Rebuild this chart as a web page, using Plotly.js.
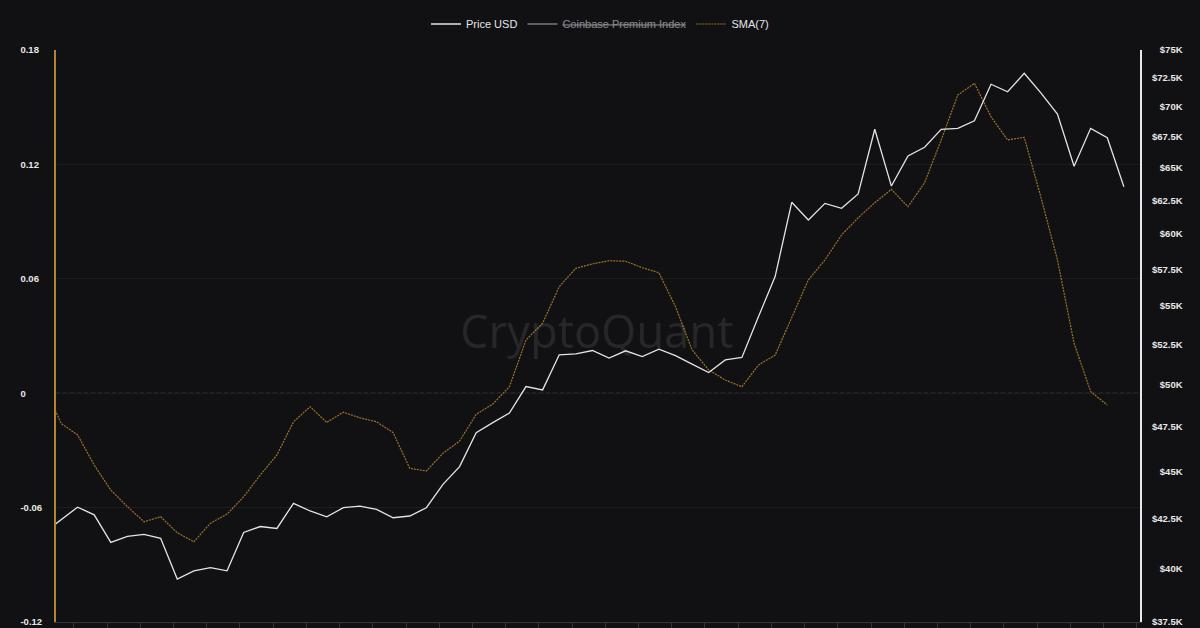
<!DOCTYPE html>
<html>
<head>
<meta charset="utf-8">
<script src="https://cdn.plot.ly/plotly-3.0.1.min.js"></script>
<style>
  html, body { margin: 0; padding: 0; background: #111114; }
  #chart { width: 1200px; height: 628px; }
</style>
</head>
<body>
<div id="chart"></div>
<script>
// ---- Data (daily, 2024-01-14 .. 2024-03-19) ----
const START_DATE = '2024-01-14';
const N_DAYS = 66;

const priceUSD = [
  41800, 42450, 43100, 42700, 41300, 41600, 41700, 41500, 39500, 39900,
  40050, 39900, 41800, 42100, 42000, 43300, 42900, 42600, 43070, 43150,
  42980, 42550, 42640, 43070, 44310, 45270, 47170, 47750, 48300, 49880,
  49680, 51840, 51900, 52110, 51630, 52090, 51730, 52190, 51790, 51260,
  50740, 51520, 51670, 54300, 56990, 62360, 61040, 62280, 61910, 62990,
  68130, 63600, 65970, 66660, 68130, 68210, 68840, 71950, 71300, 72920,
  71210, 69400, 65150, 68210, 67440, 63550
];

const sma7 = [
  0.004, -0.0158, -0.0219, -0.0377, -0.0508, -0.0595, -0.0674, -0.0648, -0.0732, -0.0779,
  -0.0682, -0.0634, -0.0543, -0.0429, -0.0324, -0.0150, -0.0071, -0.0153, -0.0100, -0.0129,
  -0.0150, -0.0207, -0.0394, -0.0408, -0.0315, -0.0251, -0.0111, -0.0057, 0.0034, 0.0279,
  0.0367, 0.0559, 0.0655, 0.0678, 0.0695, 0.0692, 0.0658, 0.0632, 0.0454, 0.0227,
  0.0122, 0.0069, 0.0034, 0.0148, 0.0200, 0.0401, 0.0594, 0.0699, 0.0830, 0.0920,
  0.0999, 0.1069, 0.0978, 0.1104, 0.1328, 0.1564, 0.1625, 0.1450, 0.1328, 0.1342,
  0.1029, 0.0699, 0.0262, 0.0008, -0.0062, null
];

// Coinbase Premium Index itself is toggled off in the reference (legend only, values not shown)
const premiumIndex = [null];

const leftTickVals = [-0.12, -0.06, 0, 0.06, 0.12, 0.18];
const leftTickLabels = ['-0.12', '-0.06', '0', '0.06', '0.12', '0.18'];
const rightTickVals = [37500, 40000, 42500, 45000, 47500, 50000, 52500, 55000,
  57500, 60000, 62500, 65000, 67500, 70000, 72500, 75000];
const rightTickLabels = ['$37.5K', '$40K', '$42.5K', '$45K', '$47.5K', '$50K', '$52.5K', '$55K',
  '$57.5K', '$60K', '$62.5K', '$65K', '$67.5K', '$70K', '$72.5K', '$75K'];

// ---- build dates ----
const dates = [];
{
  const d0 = new Date(START_DATE + 'T00:00:00Z');
  for (let i = 0; i < N_DAYS; i++) {
    const d = new Date(d0.getTime() + i * 86400000);
    dates.push(d.toISOString().slice(0, 10));
  }
}

// invisible padding to emulate left-aligned (left axis) / right-aligned (right axis) labels
const hid = s => '<span style="color:rgba(0,0,0,0)">' + s + '</span>';
const leftText = leftTickLabels.map(t => {
  if (t.startsWith('-')) return t;
  if (t === '0') return t + hid('-.06');
  return t + hid('-');
});
const rightText = rightTickLabels.map(t => t.includes('.') ? t : hid('0.') + t);

const FONT = 'Liberation Sans, Arial, sans-serif';

const traces = [
  {
    type: 'scatter', mode: 'lines', name: 'Price USD',
    x: dates, y: priceUSD, yaxis: 'y2',
    line: { color: '#e4e4e4', width: 1.3 },
    hoverinfo: 'skip'
  },
  {
    type: 'scatter', mode: 'lines',
    name: '<span style="color:#ffffff"><s>Coinbase Premium Index</s></span>',
    x: dates.slice(0, premiumIndex.length), y: premiumIndex, yaxis: 'y',
    visible: 'legendonly', showlegend: true,
    line: { color: '#ffffff', width: 1.3 }
  },
  {
    type: 'scatter', mode: 'lines', name: 'SMA(7)',
    x: dates, y: sma7, yaxis: 'y',
    line: { color: '#9c7526', width: 1.2, dash: '2px,1px' },
    hoverinfo: 'skip'
  }
];

const layout = {
  width: 1200, height: 628,
  paper_bgcolor: '#111114', plot_bgcolor: '#111114',
  font: { family: FONT, color: '#e6e6e6', size: 10 },
  margin: { l: 56, r: 60, t: 50, b: 6, pad: 0 },
  showlegend: true,
  legend: {
    orientation: 'h', x: 0.5, xanchor: 'center', xref: 'container',
    y: 1 - 24 / 628, yanchor: 'middle', yref: 'container',
    font: { family: FONT, size: 11, color: '#e6e6e6' },
    bgcolor: 'rgba(0,0,0,0)', itemwidth: 30, traceorder: 'normal'
  },
  xaxis: {
    type: 'date',
    range: ['2024-01-14 16:47', '2024-03-19 23:17'],
    showgrid: false, zeroline: false,
    showline: true, linecolor: '#333338', linewidth: 1,
    ticks: 'outside', ticklen: 5, tickcolor: '#333338', tickwidth: 1,
    tick0: '2024-01-15 18:39', dtick: 2 * 86400000,
    showticklabels: false
  },
  yaxis: {
    range: [-0.12, 0.18],
    tickmode: 'array', tickvals: leftTickVals, ticktext: leftText,
    showgrid: true, gridcolor: '#1d1d21', gridwidth: 1,
    zeroline: false,
    showline: true, linecolor: '#b5852e', linewidth: 2,
    ticks: '', ticklabelstandoff: 10,
    tickfont: { family: FONT, size: 9.5, weight: 'bold', color: '#e8e8e8' }
  },
  yaxis2: {
    type: 'log', overlaying: 'y', side: 'right',
    range: [Math.log10(37500), Math.log10(75000)],
    tickmode: 'array', tickvals: rightTickVals, ticktext: rightText,
    showgrid: false, zeroline: false,
    showline: true, linecolor: '#e8e8e8', linewidth: 2,
    ticks: '', ticklabelstandoff: 8,
    tickfont: { family: FONT, size: 9.5, weight: 'bold', color: '#e8e8e8' }
  },
  shapes: [{
    type: 'line', xref: 'paper', x0: 0, x1: 1, yref: 'y', y0: 0, y1: 0,
    line: { color: '#4a4a50', width: 1, dash: '4px,3px' }, layer: 'below'
  }],
  annotations: [{
    text: 'CryptoQuant', xref: 'paper', yref: 'paper',
    x: 0.4986, y: 0.509, xanchor: 'center', yanchor: 'middle', showarrow: false,
    font: { family: 'Noto Sans, sans-serif', size: 45, color: 'rgba(255,255,255,0.09)' }
  }]
};

Plotly.newPlot('chart', traces, layout, { staticPlot: true, displayModeBar: false });
</script>
</body>
</html>
